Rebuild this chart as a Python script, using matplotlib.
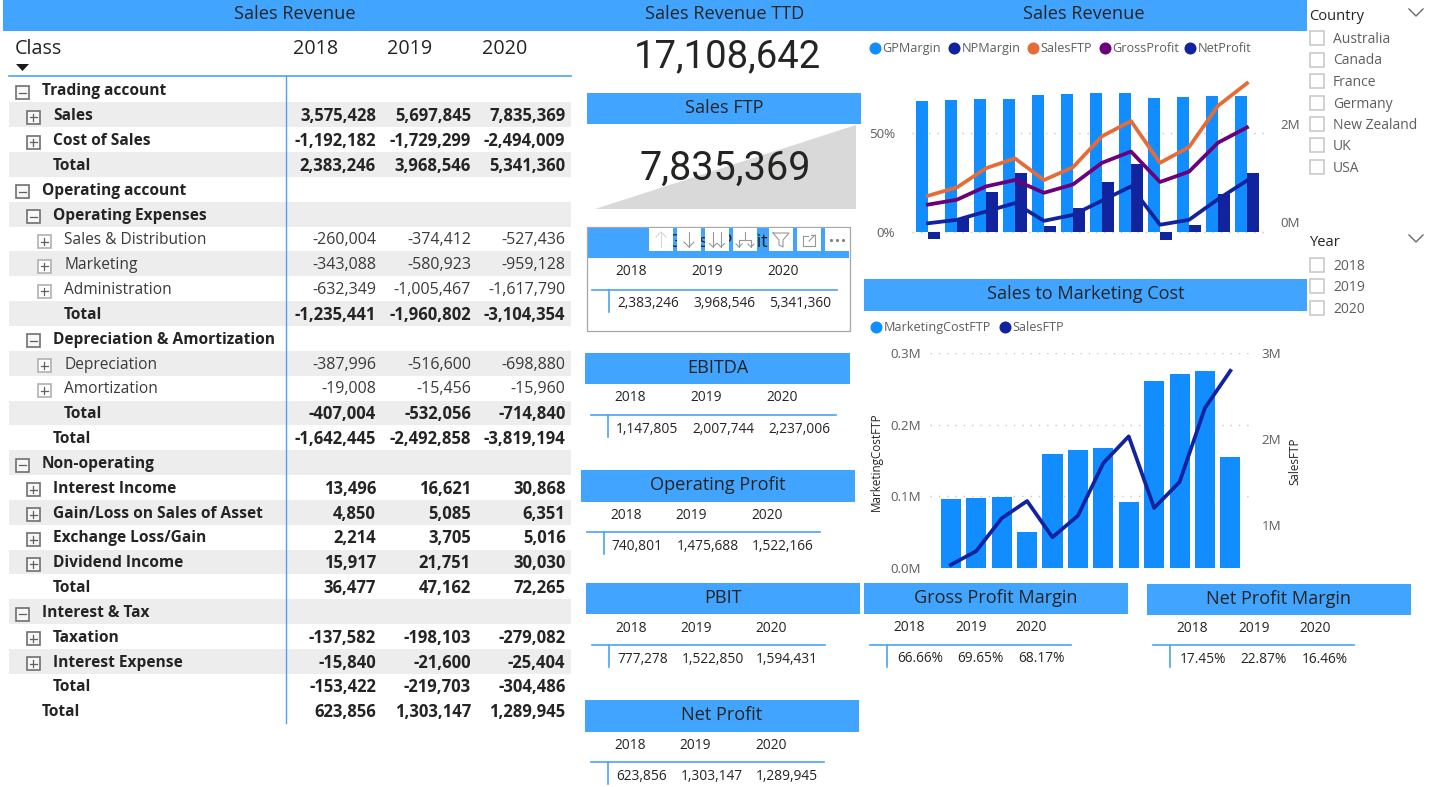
import matplotlib
matplotlib.use("Agg")
import matplotlib.pyplot as plt
from matplotlib.patches import Rectangle, Polygon

W = 1431
H = 787

BAND = "#41A4FF"
BLUE = "#118DFF"
NAVY = "#12239E"
ORANGE = "#E66C37"
PURPLE = "#6B007B"
TEXT = "#252423"
GREY_TEXT = "#605E5C"
LINE = "#4BA3F5"

plt.rcParams["font.family"] = ["Open Sans", "DejaVu Sans"]

# main matrix
row_labels = ["Trading account", "Sales", "Cost of Sales", "Total", "Operating account",
              "Operating Expenses", "Sales & Distribution", "Marketing", "Administration", "Total",
              "Depreciation & Amortization", "Depreciation", "Amortization", "Total", "Total",
              "Non-operating", "Interest Income", "Gain/Loss on Sales of Asset", "Exchange Loss/Gain",
              "Dividend Income", "Total", "Interest & Tax", "Taxation", "Interest Expense", "Total", "Total"]
row_indent = [0, 1, 1, 1, 0, 1, 2, 2, 2, 2, 1, 2, 2, 2, 1, 0, 1, 1, 1, 1, 1, 0, 1, 1, 1, 0]
row_icon = ["-", "+", "+", "", "-", "-", "+", "+", "+", "", "-", "+", "+", "", "", "-",
            "+", "+", "+", "+", "", "-", "+", "+", "", ""]
row_plain = [6, 7, 8, 11, 12]
vals_2018 = [None, 3575428, -1192182, 2383246, None, None, -260004, -343088, -632349, -1235441,
             None, -387996, -19008, -407004, -1642445, None, 13496, 4850, 2214, 15917, 36477,
             None, -137582, -15840, -153422, 623856]
vals_2019 = [None, 5697845, -1729299, 3968546, None, None, -374412, -580923, -1005467, -1960802,
             None, -516600, -15456, -532056, -2492858, None, 16621, 5085, 3705, 21751, 47162,
             None, -198103, -21600, -219703, 1303147]
vals_2020 = [None, 7835369, -2494009, 5341360, None, None, -527436, -959128, -1617790, -3104354,
             None, -698880, -15960, -714840, -3819194, None, 30868, 6351, 5016, 30030, 72265,
             None, -279082, -25404, -304486, 1289945]

years = ["2018", "2019", "2020"]

# combo chart at the top right
gp_margin = [66.3, 66.8, 67.2, 67.2, 69.4, 69.9, 70.2, 70.2, 68.0, 68.4, 68.7, 68.7]
np_margin = [-3.5, 7.1, 20.4, 29.8, 3.4, 12.5, 25.6, 34.7, -3.9, 3.7, 19.5, 29.8]
sales_ftp = [0.54, 0.71, 1.10, 1.30, 0.86, 1.12, 1.75, 2.06, 1.21, 1.53, 2.37, 2.83]
gross_profit = [0.36, 0.46, 0.73, 0.86, 0.60, 0.77, 1.21, 1.44, 0.82, 1.03, 1.62, 1.93]
net_profit = [-0.02, 0.05, 0.22, 0.39, 0.03, 0.15, 0.44, 0.73, -0.05, 0.05, 0.47, 0.85]

# sales to marketing chart
marketing_cost = [0.0964, 0.0978, 0.0997, 0.051, 0.159, 0.164, 0.167, 0.092, 0.26, 0.270, 0.275, 0.155]
sales_line = [0.54, 0.70, 1.08, 1.28, 0.86, 1.11, 1.72, 2.03, 1.20, 1.50, 2.36, 2.79]

countries = ["Australia", "Canada", "France", "Germany", "New Zealand", "UK", "USA"]

gross_profit_row = ["2,383,246", "3,968,546", "5,341,360"]
ebitda_row = ["1,147,805", "2,007,744", "2,237,006"]
operating_row = ["740,801", "1,475,688", "1,522,166"]
pbit_row = ["777,278", "1,522,850", "1,594,431"]
net_row = ["623,856", "1,303,147", "1,289,945"]
gpm_row = ["66.66%", "69.65%", "68.17%"]
npm_row = ["17.45%", "22.87%", "16.46%"]

fig = plt.figure(figsize=(W / 100, H / 100), dpi=100)
page = fig.add_axes([0, 0, 1, 1])
page.set_xlim(0, W)
page.set_ylim(H, 0)
page.axis("off")


def px_axes(left, top, right, bottom):
    a = fig.add_axes([left / W, 1 - bottom / H, (right - left) / W, (bottom - top) / H])
    a.patch.set_alpha(0)
    return a


def label(x, y, s, **kw):
    kw.setdefault("va", "center")
    kw.setdefault("color", TEXT)
    return page.text(x, y + 1.3, s, **kw)


def band(x0, x1, y0, y1, title, tx=None):
    page.add_patch(Rectangle((x0, y0), x1 - x0, y1 - y0, color=BAND, lw=0))
    if title:
        if tx is None:
            tx = (x0 + x1) / 2
        label(tx, (y0 + y1) / 2 - 2, title, ha="center", fontsize=13.1)


def expander(x, y, kind, light):
    c = "#b0b0b0" if light else "#707070"
    s = 6.5
    page.add_patch(Rectangle((x - s, y - s), 2 * s, 2 * s, fc="#f7f7f7" if not light else "white",
                             ec=c, lw=1.2))
    page.plot([x - 3.5, x + 3.5], [y, y], color="#606060", lw=0.9)
    if kind == "+":
        page.plot([x, x], [y - 3.5, y + 3.5], color="#606060", lw=0.9)


def small_table(year_x, year_y, line_x0, line_x1, line_y, vert_x, value_x, values):
    for x, yr in zip(year_x, years):
        label(x, year_y, yr, ha="left", fontsize=9.9)
    page.plot([line_x0, line_x1], [line_y, line_y], color=LINE, lw=1.2)
    page.plot([vert_x, vert_x], [line_y, line_y + 22], color=LINE, lw=1.2)
    for x, v in zip(value_x, values):
        label(x, line_y + 13, v, ha="right", fontsize=9.9)


# header bands
band(3, 1307, 0, 31, None)
label(295, 12.5, "Sales Revenue", ha="center", fontsize=13.1)
label(725, 12.5, "Sales Revenue TTD", ha="center", fontsize=13.1)
label(1084, 12.5, "Sales Revenue", ha="center", fontsize=13.1)

# matrix
row_y0 = 90
row_step = 24.84
for i in range(len(row_labels)):
    y = row_y0 + i * row_step
    if i % 2 == 1 and i < len(row_labels) - 1:
        page.add_patch(Rectangle((9, y - row_step / 2), 562, row_step, color="#EDEDED", lw=0))
    plain = i in row_plain
    weight = "normal" if plain else "bold"
    tc = "#3a3a3a" if plain else TEXT
    label(42 + 11 * row_indent[i], y, row_labels[i], ha="left",
          fontsize=11.2, fontweight=weight, color=tc)
    if row_icon[i]:
        expander(22 + 11 * row_indent[i], y + 2.5, row_icon[i], plain)
    for x, col in zip([376, 471, 565.5], [vals_2018, vals_2019, vals_2020]):
        if col[i] is not None:
            label(x, y, f"{col[i]:,}", ha="right", fontsize=11.5 if plain else 12,
                  fontweight=weight, color=tc)

label(15, 47.5, "Class", ha="left", fontsize=14.2)
for x, yr in zip([292.5, 387, 482], years):
    label(x, 47.5, yr, ha="left", fontsize=14.2)
page.add_patch(Polygon([(16, 64), (29, 64), (22.5, 71)], color="#1a1a1a", lw=0))
page.plot([9, 571], [76, 76], color=LINE, lw=1.2)
page.plot([285.5, 285.5], [76, 723], color=LINE, lw=1)

# kpi cards
label(727, 55, "17,108,642", ha="center", fontsize=27.5, family="Roboto")
band(587, 861, 93, 124, "Sales FTP")
page.add_patch(Polygon([(595, 209), (856, 125), (856, 209)], color="#D9D9D9", lw=0))
label(725, 167, "7,835,369", ha="center", fontsize=28.5, family="Roboto")

# gross profit table with the hover toolbar on top of it
band(587, 849, 227, 258, "Gross Profit", tx=718)
page.add_patch(Rectangle((586.5, 227), 263, 104, fc="none", ec="#a6a6a6", lw=0.9))
small_table([615.5, 691, 767], 270, 592, 837, 289.5, 609, [679, 755, 831], gross_profit_row)

icon_x = [649, 677, 705, 733, 769, 797, 825]
for x in icon_x:
    page.add_patch(Rectangle((x, 228), 24, 23, color="white", lw=0, zorder=4))


def stroke(xs, ys, c="#999999"):
    page.plot(xs, ys, color=c, lw=0.8, zorder=5)


def down_arrow(cx, half=5, top=232, c="#999999"):
    stroke([cx, cx], [top, 247], c)
    stroke([cx - half, cx, cx + half], [247 - half, 247, 247 - half], c)


stroke([661, 661], [232, 247], "#d8d8d8")
stroke([656, 661, 666], [237, 232, 237], "#d8d8d8")
down_arrow(689)
down_arrow(713, half=3.5)
down_arrow(721, half=3.5)
stroke([745, 745], [232, 240])
stroke([739, 751], [240, 240])
down_arrow(739, half=3, top=240)
down_arrow(751, half=3, top=240)
stroke([773, 789, 783, 783, 779, 779, 773], [233, 233, 240, 247, 245, 240, 233])
stroke([803, 803, 815, 815], [236, 246, 246, 240])
stroke([803, 808], [236, 236])
stroke([809, 815], [241, 235])
stroke([811, 815, 815], [235, 235, 239])
page.scatter([831, 837, 843], [240, 240, 240], s=1.5, color="#808080", zorder=5)

band(585, 850, 353, 384, "EBITDA")
small_table([614.7, 690, 766], 396.5, 591, 836, 415.3, 608, [678, 754, 830], ebitda_row)
band(581, 855, 470, 501.5, "Operating Profit")
small_table([610.7, 675, 751], 514, 587, 820, 532, 604, [662, 739, 814], operating_row)
band(586, 860, 583, 614, "PBIT")
small_table([615.7, 680, 755.7], 627, 592, 825, 645, 609, [668, 744, 818], pbit_row)
band(585, 859, 700, 731.5, "Net Profit")
small_table([614.7, 679, 755], 744, 591, 824, 762.3, 608, [667, 743, 818], net_row)
band(864, 1128, 583, 614, "Gross Profit Margin")
small_table([893.5, 955, 1015.5], 626, 870, 1071, 644.5, 887, [943, 1004, 1065], gpm_row)
band(1147, 1411, 584, 615, "Net Profit Margin")
small_table([1176, 1238, 1299], 627, 1153, 1354, 645, 1170, [1226, 1287, 1348], npm_row)
band(864, 1307, 279, 311, "Sales to Marketing Cost")

# top combo chart
months = list(range(len(gp_margin)))
ax1 = px_axes(912, 72, 1265, 245)
ax1.bar([m - 0.2 for m in months], gp_margin, width=0.4, color=BLUE)
ax1.bar([m + 0.2 for m in months], np_margin, width=0.4, color=NAVY)
ax1.set_xlim(-0.55, 11.62)
ax1.set_ylim(-6.4, 80.96)
ax1.set_yticks([0, 50], ["0%", "50%"])
ax1.yaxis.grid(True, linestyle=(0, (1, 5)), color="#c8c6c4", lw=1)
ax1.set_axisbelow(True)
ax1r = ax1.twinx()
ax1r.patch.set_alpha(0)
ax1r.plot(months, sales_ftp, color=ORANGE, lw=2.7, solid_joinstyle="round")
ax1r.plot(months, gross_profit, color=PURPLE, lw=2.7, solid_joinstyle="round")
ax1r.plot(months, net_profit, color=NAVY, lw=2.7, solid_joinstyle="round")
ax1r.set_ylim(-0.462, 3.058)
ax1r.set_yticks([0, 2], ["0M", "2M"])

# bottom combo chart
ax2 = px_axes(930, 352.7, 1250.7, 568.3)
ax2.bar(months, marketing_cost, width=0.79, color=BLUE)
ax2.set_xlim(-0.82, 11.8)
ax2.set_ylim(0, 0.3)
ax2.set_yticks([0, 0.1, 0.2, 0.3], ["0.0M", "0.1M", "0.2M", "0.3M"])
ax2.yaxis.grid(True, linestyle=(0, (1, 5)), color="#c8c6c4", lw=1)
ax2.set_axisbelow(True)
ax2r = ax2.twinx()
ax2r.patch.set_alpha(0)
ax2r.plot(months, sales_line, color=NAVY, lw=2.7, solid_joinstyle="round")
ax2r.set_ylim(0.5, 3)
ax2r.set_yticks([1, 2, 3], ["1M", "2M", "3M"])

for a, pad in [(ax1, 12), (ax1r, 11), (ax2, 6.5), (ax2r, 8)]:
    for s in a.spines.values():
        s.set_visible(False)
    a.set_xticks([])
    a.tick_params(axis="y", length=0, pad=pad, labelsize=9.6, labelcolor=GREY_TEXT)

label(876, 460, "MarketingCostFTP", rotation=90, ha="center", fontsize=8.4)
label(1295, 460, "SalesFTP", rotation=90, ha="center", fontsize=8.4)

# legends
legend_1 = [("GPMargin", BLUE, 874.7), ("NPMargin", NAVY, 954), ("SalesFTP", ORANGE, 1033),
            ("GrossProfit", PURPLE, 1105), ("NetProfit", NAVY, 1190)]
legend_2 = [("MarketingCostFTP", BLUE, 876), ("SalesFTP", NAVY, 1005)]
for items, y in [(legend_1, 47.5), (legend_2, 326.5)]:
    for name, c, x in items:
        page.scatter([x], [y], s=75, color=c, lw=0)
        label(x + 7.5, y, name, ha="left", fontsize=9.1, color=GREY_TEXT)


# slicers
def slicer(title, title_y, items, item_ys):
    label(1309, title_y, title, ha="left", fontsize=10.6)
    page.plot([1409, 1416, 1423], [title_y - 6, title_y + 1, title_y - 6], color="#6a6a6a", lw=1)
    for name, y in zip(items, item_ys):
        page.add_patch(Rectangle((1309.5, y - 7), 14, 14, fc="white", ec="#c8c6c4", lw=1.1))
        label(1333, y, name, ha="left", fontsize=10, color=GREY_TEXT)


slicer("Country", 15, countries, [38, 59.5, 81, 103, 124, 145, 167])
slicer("Year", 241, years, [265, 286, 308])

fig.savefig("out.png", dpi=100)
